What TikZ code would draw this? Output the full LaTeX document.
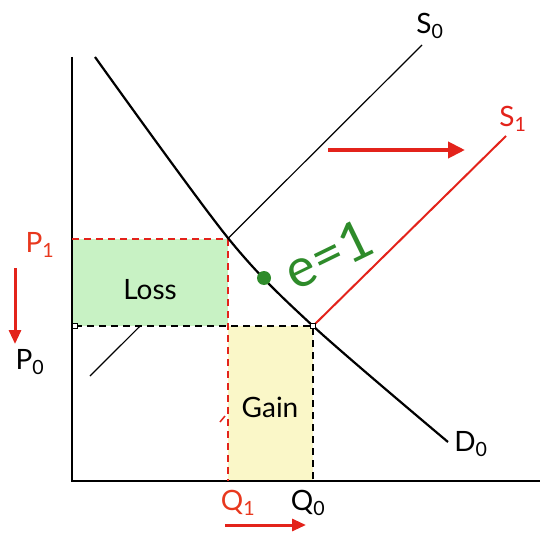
\documentclass[tikz,border=0pt]{standalone}
\usepackage{fontspec}
\setmainfont{Lato}
\usetikzlibrary{arrows.meta}
\definecolor{myred}{HTML}{E3231B}
\definecolor{lblred}{HTML}{E8381E}
\definecolor{lossfill}{HTML}{C8F2C4}
\definecolor{gainfill}{HTML}{FAF7C8}
\definecolor{egreen}{HTML}{2E8B2A}
\begin{document}
\begin{tikzpicture}[x=1pt,y=-1pt,
  axisline/.style={line width=2pt},
  curveline/.style={line width=2.2pt},
  thinline/.style={line width=1.2pt},
  blackdash/.style={line width=1.8pt, dash pattern=on 7pt off 5pt},
  reddash/.style={line width=1.5pt, myred, dash pattern=on 7pt off 5pt},
  lbl/.style={font=\fontsize{28}{30}\selectfont, inner sep=0pt},
  boxlbl/.style={font=\fontsize{28}{30}\selectfont, inner sep=0pt},
  bigarrow/.style={myred, line width=4pt, -{Triangle[length=17pt,width=16pt]}},
  smallarrow/.style={myred, line width=3pt, -{Triangle[length=14pt,width=12pt]}},
  marker/.style={draw=black, fill=white, line width=0.8pt, minimum size=5pt, inner sep=0pt}]
\useasboundingbox (0,0) rectangle (556,545);
% S0 (drawn under the loss box)
\coordinate (s0a) at (90,376);
\coordinate (s0b) at (422,45);
\draw[thinline] (s0a) -- (s0b);
% boxes
\fill[lossfill] (72,239) rectangle (228,326);
\fill[gainfill] (228,326) rectangle (313,481);
% axes
\coordinate (origin) at (72,481);
\coordinate (ytop) at (72,57);
\coordinate (xend) at (540,481);
\draw[axisline] (ytop) -- (origin) -- (xend);
% dashed lines
\coordinate (p1) at (72,239);
\coordinate (a) at (228,239);
\coordinate (q1) at (228,481);
\coordinate (p0) at (75,326);
\coordinate (e0) at (313,326);
\coordinate (q0) at (313,481);
\draw[reddash] (p1) -- (a) -- (q1);
\draw[blackdash] (p0) -- (e0) -- (q0);
% S1
\coordinate (s1b) at (506,136);
\draw[myred, line width=2pt] (e0) -- (s1b);
% stray red mark
\draw[myred, line width=1.5pt] (220,422) -- (225,416);
% demand
\draw[curveline] plot[smooth] coordinates {(95,57) (228,238) (313,326) (448,442)};
% markers
\node[marker] (m0) at (p0) {};
\node[marker] (m1) at (e0) {};
% green dot
\fill[egreen] (264,278) circle (7pt);
\node[text=egreen, font=\fontsize{54}{56}\selectfont, rotate=26, inner sep=0pt] (elab) at (328,254) {e=1};
% labels
\node[lbl] (S0) at (430,26) {S\textsubscript{0}};
\node[lbl, text=myred] (S1) at (513,119) {S\textsubscript{1}};
\node[lbl] (D0) at (471,444) {D\textsubscript{0}};
\node[lbl, text=lblred] (P1) at (40,245) {P\textsubscript{1}};
\node[lbl] (P0) at (30,362) {P\textsubscript{0}};
\node[lbl, text=lblred] (Q1) at (238,503) {Q\textsubscript{1}};
\node[lbl] (Q0) at (308,503) {Q\textsubscript{0}};
\node[boxlbl] (loss) at (150,290) {Loss};
\node[boxlbl] (gain) at (270,407) {Gain};
% arrows
\coordinate (ra) at (328,150);
\coordinate (rb) at (465,150);
\draw[bigarrow] (ra) -- (rb);
\coordinate (da) at (15,268);
\coordinate (db) at (15,344);
\draw[smallarrow] (da) -- (db);
\coordinate (ba) at (225,525);
\coordinate (bb) at (306,525);
\draw[smallarrow] (ba) -- (bb);
\end{tikzpicture}
\end{document}
